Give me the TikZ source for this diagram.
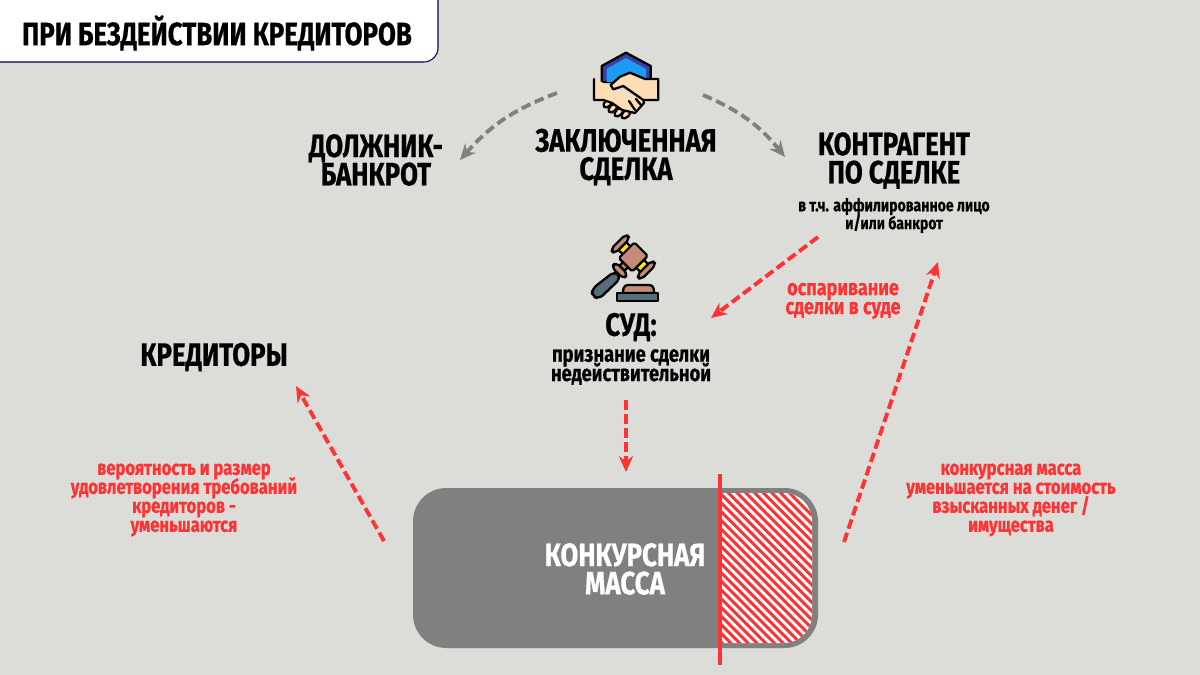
\documentclass[tikz,border=0pt]{standalone}
\usepackage{fontspec}
\setmainfont[FakeStretch=0.8,BoldFeatures={FakeBold=0.6}]{Fira Sans}
\usetikzlibrary{arrows.meta}
\lineskiplimit=-20pt
\definecolor{pagegray}{HTML}{DCDCD8}
\definecolor{massgray}{HTML}{808080}
\definecolor{alertred}{HTML}{FF3333}
\definecolor{arrowgray}{HTML}{808080}
\definecolor{skin}{HTML}{FDDDB3}
\definecolor{slate}{HTML}{546E7A}
\definecolor{wood}{HTML}{C48B76}
\definecolor{hexdark}{HTML}{3A3FA8}
\definecolor{hexlight}{HTML}{1E9BF0}
\tikzset{
  bigtext/.style={align=center,text=black,font=\fontsize{18.4}{16.1}\selectfont\bfseries},
  smalltext/.style={align=center,text=black,font=\fontsize{13}{11}\selectfont\bfseries},
  tinytext/.style={align=center,text=black,font=\fontsize{10}{10.2}\selectfont\bfseries},
  redtext/.style={align=center,text=alertred,font=\fontsize{11.8}{10.8}\selectfont\bfseries},
  grayarrow/.style={draw=arrowgray,line width=2.2pt,dash pattern=on 5.5pt off 2.7pt,-{Stealth[length=9pt,width=8pt]}},
  redarrow/.style={draw=alertred,line width=2.2pt,dash pattern=on 5.5pt off 2.5pt,-{Stealth[length=9pt,width=8pt]}},
  iconline/.style={draw=black,line width=1.3pt,line join=round,line cap=round}
}
\begin{document}
\begin{tikzpicture}[x=0.02cm,y=-0.02cm]
% Page
\fill[pagegray] (0,0) rectangle (1200,675);
\useasboundingbox (0,0) rectangle (1200,675);

% Title
\begin{scope}
  \clip (0,0) rectangle (1200,675);
  \draw[fill=white,draw=blue!35!black,line width=0.6pt,rounded corners=8pt] (-20,-20) rectangle (438,62);
\end{scope}
\node[bigtext] (title) at (217,33) {ПРИ БЕЗДЕЙСТВИИ КРЕДИТОРОВ};

% Handshake icon
\draw[iconline,fill=hexdark] (601.7,82) -- (601.7,66) -- (626,52.7) -- (650.7,66) -- (650.7,82) -- cycle;
\fill[hexlight] (606.5,82) -- (606.5,69) -- (626,58) -- (646,69) -- (646,82) -- cycle;
\foreach \fx/\fy in {608/103,613/108,619/112,626/114}
  \draw[iconline,fill=skin] (\fx,\fy) ellipse[x radius=5.5,y radius=3.2,rotate=45];
\draw[iconline,fill=skin] (594,79) -- (594,100) -- (603.3,100) -- (612,103) -- (622,110) -- (635,113) -- (644,103) -- (643.3,100) -- (658.3,100) -- (658.3,79) -- (645,79) -- (630,72.7) -- (620,76.7) -- (610.7,85) -- (613.3,89.3) -- (623.3,86) -- (643.3,100);
\draw[iconline] (629,101) -- (635,110) (636,99) -- (641,105);

% Gavel icon
\draw[iconline,fill=slate,rounded corners=3pt] (615,271) -- (592,289) -- (592,296) -- (599,299) -- (621,278) -- cycle;
\begin{scope}[shift={(633.3,257)},rotate=-45]
  \draw[iconline,fill=yellow!90!orange] (-17,-5.5) rectangle (17,5.5);
  \draw[iconline,fill=wood,rounded corners=1pt] (-9.5,-11) rectangle (9.5,11);
  \draw[iconline,fill=wood,rounded corners=2.5pt] (-21.5,-11) rectangle (-15.5,11);
  \draw[iconline,fill=wood,rounded corners=2.5pt] (15.5,-11) rectangle (21.5,11);
  \draw[iconline,fill=wood] (-3.5,11) rectangle (3.5,16);
  \draw[iconline,fill=wood,rounded corners=2.5pt] (-8.5,16) rectangle (8.5,22.5);
\end{scope}
\draw[iconline,fill=wood] (623,293) .. controls (623,285) and (626,285) .. (630,285) -- (648,285) .. controls (652,285) and (654,286) .. (654,293) -- cycle;
\draw[iconline,fill=slate] (617.3,293.3) rectangle (658.3,301);

% Texts
\node[bigtext] (debtor) at (376,160) {ДОЛЖНИК-\\БАНКРОТ};
\node[bigtext] (deal) at (626,157) {ЗАКЛЮЧЕННАЯ\\СДЕЛКА};
\node[bigtext] (party) at (894,160.5) {КОНТРАГЕНТ\\ПО СДЕЛКЕ};
\node[tinytext] (partynote) at (894,215.5) {в т.ч. аффилированное лицо\\и/или банкрот};
\node[bigtext] (court) at (631,327) {СУД:};
\node[smalltext] (courtnote) at (631,367) {признание сделки\\недействительной};
\node[bigtext] (creditors) at (214,357) {КРЕДИТОРЫ};
\node[redtext,font=\fontsize{12.8}{10.8}\selectfont\bfseries] (dispute) at (843,301) {оспаривание\\сделки в суде};
\node[redtext] (chance) at (184,500) {вероятность и размер\\удовлетворения требований\\кредиторов -\\уменьшаются};
\node[redtext] (shrink) at (1011,500) {конкурсная масса\\уменьшается на стоимость\\взысканных денег /\\имущества};

% Estate box
\fill[massgray,rounded corners=19pt] (413,488) rectangle (818,648);
\begin{scope}
  \clip[rounded corners=16pt] (600,493) rectangle (812,643);
  \fill[white] (720,480) rectangle (820,650);
  \foreach \i in {0,8.7,...,280} {
    \draw[alertred,line width=1.7pt] (720,{480+\i-100}) -- ++(100,100);
  }
\end{scope}
\fill[massgray] (700,488) rectangle (721,648);
\draw[alertred,line width=2.2pt] (720,474) -- (720,665);
\node[bigtext,text=white] (estate) at (625,569) {КОНКУРСНАЯ\\МАССА};

% Arrow ends
\coordinate (dealleft) at (557,93);
\coordinate (debtorend) at (460,160);
\coordinate (dealright) at (703,95);
\coordinate (partyend) at (785,157);
\coordinate (partylow) at (818,237);
\coordinate (courtend) at (711,318);
\coordinate (courtlow) at (626,400);
\coordinate (estatetop) at (626,472);
\coordinate (estateleft) at (384,541);
\coordinate (creditorsend) at (296,386);
\coordinate (estateright) at (844,542);
\coordinate (partyback) at (938,262);

% Arrows
\draw[grayarrow] (dealleft) to[bend right=14] (debtorend);
\draw[grayarrow] (dealright) to[bend left=14] (partyend);
\draw[redarrow] (partylow) -- (courtend);
\draw[redarrow] (courtlow) -- (estatetop);
\draw[redarrow] (estateleft) -- (creditorsend);
\draw[redarrow] (estateright) -- (partyback);
\end{tikzpicture}
\end{document}
